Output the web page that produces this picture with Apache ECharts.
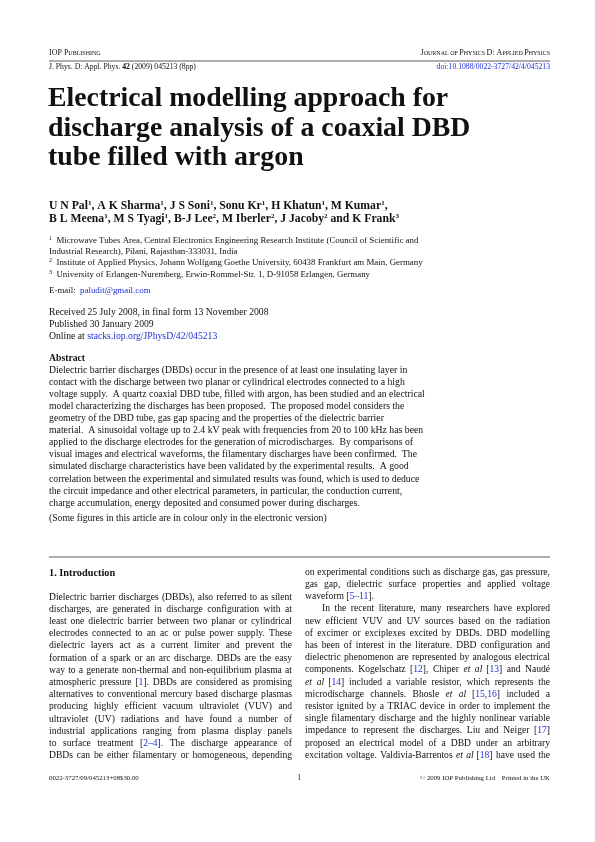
<!DOCTYPE html>
<html><head><meta charset="utf-8">
<script src="https://cdn.jsdelivr.net/npm/echarts@6/dist/echarts.min.js"></script>
<style>html,body{margin:0;padding:0;background:#fff}#c{width:595px;height:842px}</style>
</head><body><div id="c"></div>
<script>
const headerLeft = "{a|IOP P}{s|UBLISHING}";
const headerRight = "{a|J}{s|OURNAL OF }{a|P}{s|HYSICS }{a|D: A}{s|PPLIED }{a|P}{s|HYSICS}";
const citeLine = "J. Phys. D: Appl. Phys. {b|42} (2009) 045213 (8pp)";
const doiLine = "doi:10.1088/0022-3727/42/4/045213";
const titleLines = ["Electrical modelling approach for","discharge analysis of a coaxial DBD","tube filled with argon"];
const authorLines = [
 "U N Pal{s|1}, A K Sharma{s|1}, J S Soni{s|1}, Sonu Kr{s|1}, H Khatun{s|1}, M Kumar{s|1},",
 "B L Meena{s|1}, M S Tyagi{s|1}, B-J Lee{s|2}, M Iberler{s|2}, J Jacoby{s|2} and K Frank{s|3}"];
const affilLines = [
 "{s|1}  Microwave Tubes Area, Central Electronics Engineering Research Institute (Council of Scientific and",
 "Industrial Research), Pilani, Rajasthan-333031, India",
 "{s|2}  Institute of Applied Physics, Johann Wolfgang Goethe University, 60438 Frankfurt am Main, Germany",
 "{s|3}  University of Erlangen-Nuremberg, Erwin-Rommel-Str. 1, D-91058 Erlangen, Germany"];
const emailLine = "E-mail:  {l|paludit@gmail.com}";
const dateLines = ["Received 25 July 2008, in final form 13 November 2008","Published 30 January 2009","Online at {l|stacks.iop.org/JPhysD/42/045213}"];
const abstractLines = [
 "Dielectric barrier discharges (DBDs) occur in the presence of at least one insulating layer in",
 "contact with the discharge between two planar or cylindrical electrodes connected to a high",
 "voltage supply.  A quartz coaxial DBD tube, filled with argon, has been studied and an electrical",
 "model characterizing the discharges has been proposed.  The proposed model considers the",
 "geometry of the DBD tube, gas gap spacing and the properties of the dielectric barrier",
 "material.  A sinusoidal voltage up to 2.4 kV peak with frequencies from 20 to 100 kHz has been",
 "applied to the discharge electrodes for the generation of microdischarges.  By comparisons of",
 "visual images and electrical waveforms, the filamentary discharges have been confirmed.  The",
 "simulated discharge characteristics have been validated by the experimental results.  A good",
 "correlation between the experimental and simulated results was found, which is used to deduce",
 "the circuit impedance and other electrical parameters, in particular, the conduction current,",
 "charge accumulation, energy deposited and consumed power during discharges."];
const colourNote = "(Some figures in this article are in colour only in the electronic version)";
const sectionTitle = "1. Introduction";
const leftCol = [
 "Dielectric barrier discharges (DBDs), also referred to as silent",
 "discharges, are generated in discharge configuration with at",
 "least one dielectric barrier between two planar or cylindrical",
 "electrodes connected to an ac or pulse power supply.  These",
 "dielectric layers act as a current limiter and prevent the",
 "formation of a spark or an arc discharge.  DBDs are the easy",
 "way to a generate non-thermal and non-equilibrium plasma at",
 "atmospheric pressure [{l|1}].  DBDs are considered as promising",
 "alternatives to conventional mercury based discharge plasmas",
 "producing highly efficient vacuum ultraviolet (VUV) and",
 "ultraviolet (UV) radiations and have found a number of",
 "industrial applications ranging from plasma display panels",
 "to surface treatment [{l|2–4}].  The discharge appearance of",
 "DBDs can be either filamentary or homogeneous, depending"];
const rightCol = [
 "on experimental conditions such as discharge gas, gas pressure,",
 "gas gap, dielectric surface properties and applied voltage",
 "waveform [{l|5–11}].",
 "In the recent literature, many researchers have explored",
 "new efficient VUV and UV sources based on the radiation",
 "of excimer or exciplexes excited by DBDs.  DBD modelling",
 "has been of interest in the literature.  DBD configuration and",
 "dielectric phenomenon are represented by analogous electrical",
 "components.  Kogelschatz [{l|12}], Chiper {i|et} {i|al} [{l|13}] and Naudé",
 "{i|et} {i|al} [{l|14}] included a variable resistor, which represents the",
 "microdischarge channels.  Bhosle {i|et} {i|al} [{l|15},{l|16}] included a",
 "resistor ignited by a TRIAC device in order to implement the",
 "single filamentary discharge and the highly nonlinear variable",
 "impedance to represent the discharges.  Liu and Neiger [{l|17}]",
 "proposed an electrical model of a DBD under an arbitrary",
 "excitation voltage.  Valdivia-Barrentos {i|et} {i|al} [{l|18}] have used the"];
const rightRagged = [2];
const rightIndent = [3];
const footerLeft = "0022-3727/09/045213+08$30.00";
const footerMid = "1";
const footerRight = "© 2009 IOP Publishing Ltd    Printed in the UK";

const FONT = '"Liberation Serif","Times New Roman",serif';
const LINK = '#1f2fd8';
const ctx = document.createElement('canvas').getContext('2d');
const strip = s => s.replace(/\{\w+\|([^}]*)\}/g, '$1');
function measure(s, size, weight) { ctx.font = (weight||'normal') + ' ' + size + 'px ' + FONT; return ctx.measureText(strip(s)).width; }
function rich(size){ return {
  l:{fill:LINK,fontSize:size,fontFamily:FONT},
  i:{fontStyle:'italic',fontSize:size,fontFamily:FONT,fill:'#111'},
  b:{fontWeight:'bold',fontSize:size,fontFamily:FONT,fill:'#111'},
  a:{fontSize:size,fontFamily:FONT,fill:'#111'},
  s:{fontSize:Math.round(size*0.75),fontFamily:FONT,fill:'#111'}
};}
const els = [];
function txt(s, x, baseline, size, opt) {
  opt = opt || {};
  const r = rich(size);
  if (opt.sup) r.s = {fontSize:Math.max(6,Math.round(size*0.62)),fontFamily:FONT,fill:'#111',fontWeight:opt.weight||'normal',padding:[0,0,size*0.45,0],verticalAlign:'bottom'};
  if (opt.weight) { r.a.fontWeight = opt.weight; }
  els.push({type:'text', x:x, y:baseline, silent:true, style:{
    text:s, x:0, y:0, fontSize:size, fontFamily:FONT, fontWeight:opt.weight||'normal',
    fill:opt.fill||'#111', align:opt.align||'left', verticalAlign:'bottom', rich:r,
    lineHeight:size
  }, position:[0, size*0.22]});
}
function justify(lines, x0, width, y0, lh, size, ragged, indent) {
  lines.forEach((ln, k) => {
    const y = y0 + k*lh;
    const ind = indent.includes(k) ? 17 : 0;
    if (ragged.includes(k)) { txt(ln, x0+ind, y, size); return; }
    const words = ln.split(/ +/);
    const tot = words.reduce((a,w)=>a+measure(w,size),0);
    const gap = (width - ind - tot) / (words.length-1);
    let x = x0 + ind;
    words.forEach(w => { txt(w, x, y, size); x += measure(w,size) + gap; });
  });
}
// header
txt(headerLeft, 49, 57, 8);
txt(headerRight, 550, 57, 8, {align:'right'});
els.push({type:'line', shape:{x1:49,y1:61,x2:550,y2:61}, style:{stroke:'#333',lineWidth:0.8}});
txt(citeLine, 49, 71, 7.7);
txt(doiLine, 550, 71, 7.7, {align:'right', fill:LINK});
titleLines.forEach((t,i)=>txt(t, 48, 113 + i*29.5, 27.8, {weight:'bold'}));
authorLines.forEach((t,i)=>txt(t, 49, 212 + i*13.3, 11.7, {weight:'bold', sup:true}));
affilLines.forEach((t,i)=>txt(t, 49, [245,256,267.5,279][i], 8.9, {sup:true}));
txt(emailLine, 49, 295, 8.9);
dateLines.forEach((t,i)=>txt(t, 49, 317 + i*12.1, 9.7));
txt("Abstract", 49, 363, 9.7, {weight:'bold'});
abstractLines.forEach((t,i)=>txt(t, 49, 375 + i*12.1, 9.75));
txt(colourNote, 49, 523, 9.7);
els.push({type:'line', shape:{x1:49,y1:557,x2:550,y2:557}, style:{stroke:'#333',lineWidth:0.8}});
txt(sectionTitle, 49, 578, 10.3, {weight:'bold'});
justify(leftCol, 49, 243, 602, 12.18, 9.6, [], []);
justify(rightCol, 305, 245, 577, 12.2, 9.6, rightRagged, rightIndent);
txt(footerLeft, 49, 782, 6.8);
txt(footerMid, 299, 782, 7.5, {align:'center'});
txt(footerRight, 550, 782, 6.8, {align:'right'});

const chart = echarts.init(document.getElementById('c'), null, {renderer:'canvas'});
chart.setOption({animation:false, backgroundColor:'#fff', graphic:{elements:els}});
</script></body></html>
